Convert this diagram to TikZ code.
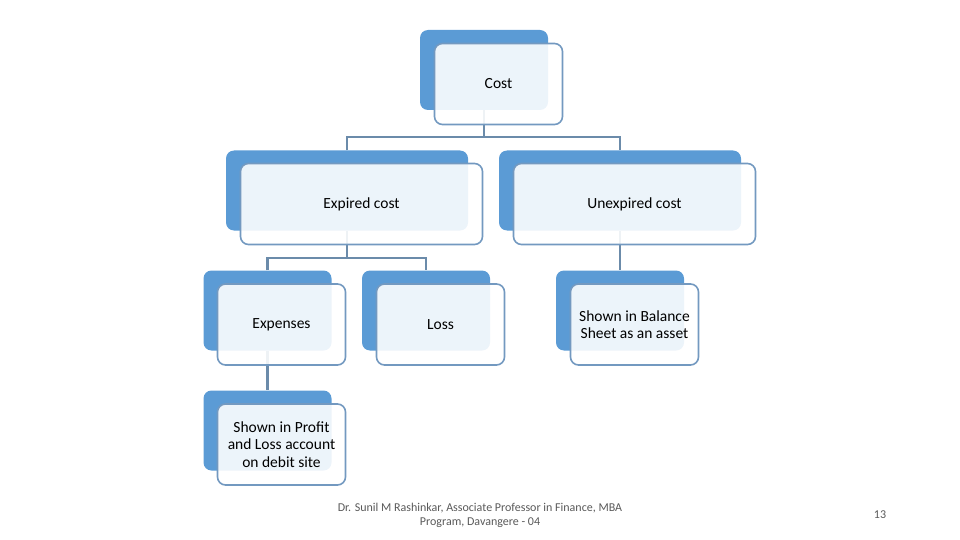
\documentclass[tikz,border=0pt]{standalone}
\usepackage{fontspec}
\setmainfont{Carlito}
\definecolor{backblue}{HTML}{5B9BD5}
\definecolor{frontline}{HTML}{7399C0}
\definecolor{connline}{HTML}{6B8BAA}
\definecolor{foottext}{HTML}{595959}
\begin{document}
\begin{tikzpicture}[x=1pt,y=-1pt,
  backbox/.style={draw=none, fill=backblue, rounded corners=8pt, minimum height=80pt, inner sep=0pt},
  frontbox/.style={draw=frontline, line width=1.6pt, fill=white, fill opacity=0.89, text opacity=1, rounded corners=8pt, minimum height=81pt, inner sep=2pt, align=center, font=\fontsize{15.5}{17.5}\selectfont, text=black},
  narrow/.style={minimum width=128pt},
  wide/.style={minimum width=242pt},
  conn/.style={draw=connline, line width=2.2pt},
  foot/.style={font=\fontsize{12}{14}\selectfont, text=foottext, align=center}
]
\path[use as bounding box] (0,0) rectangle (960,540);
% back boxes
\node[backbox, narrow] (costb) at (484,70) {};
\node[backbox, wide] (expb) at (347,190.5) {};
\node[backbox, wide] (unexpb) at (620,190.5) {};
\node[backbox, narrow] (expensesb) at (267.5,310.5) {};
\node[backbox, narrow] (lossb) at (426,310.5) {};
\node[backbox, narrow] (balb) at (620,310.5) {};
\node[backbox, narrow] (profb) at (267.5,430.5) {};
% connectors
\draw[conn] (costb.south) -- ++(0,27) coordinate (c1);
\draw[conn] (expb.north) |- (c1) -| (unexpb.north);
\draw[conn] (expb.south) -- ++(0,27) coordinate (c2);
\draw[conn] (expensesb.north) |- (c2) -| (lossb.north);
\draw[conn] (unexpb.south) -- (balb.north);
\draw[conn] (expensesb.south) -- (profb.north);
% front boxes
\node[frontbox, narrow] (cost) at (498.5,84) {Cost};
\node[frontbox, wide] (exp) at (361.5,204) {Expired cost};
\node[frontbox, wide] (unexp) at (634.5,204) {Unexpired cost};
\node[frontbox, narrow] (expenses) at (281.5,324.5) {Expenses};
\node[frontbox, narrow] (loss) at (440.5,324.5) {Loss};
\node[frontbox, narrow] (bal) at (634.5,324.5) {Shown in Balance\\Sheet as an asset};
\node[frontbox, narrow] (prof) at (281.5,444.5) {Shown in Profit\\and Loss account\\on debit site};
% footer
\node[foot] (footer) at (480,515) {Dr. Sunil M Rashinkar, Associate Professor in Finance, MBA\\Program, Davangere - 04};
\node[foot] (page) at (880,515) {13};
\end{tikzpicture}
\end{document}
